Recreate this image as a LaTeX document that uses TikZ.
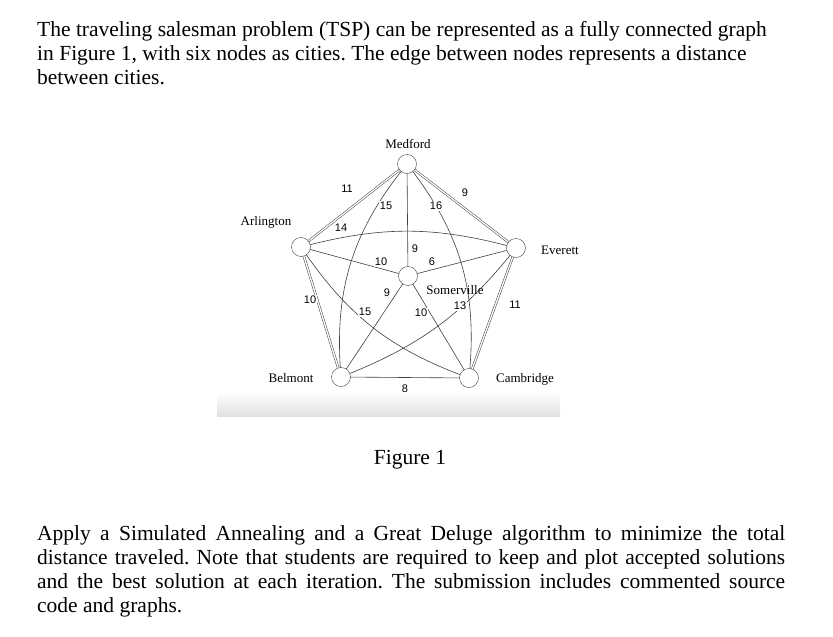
\documentclass[tikz,border=0pt]{standalone}
\usepackage{fontspec}
\setmainfont{Liberation Serif}
\newfontfamily\numfont{Liberation Sans}
\frenchspacing
\begin{document}
\begin{tikzpicture}[x=1pt,y=-1pt,
  city/.style={circle,draw=black!75,fill=white,minimum size=19pt,inner sep=0pt},
  edge/.style={draw=black!75,line width=0.6pt},
  dbl/.style={draw=black!75,double=white,double distance=1.3pt,line width=0.5pt},
  wt/.style={font=\numfont\fontsize{11}{13}\selectfont,inner sep=1pt,fill=white},
  nm/.style={font=\fontsize{13}{15}\selectfont},
  body/.style={anchor=base west,inner sep=0pt,font=\fontsize{21.5}{25}\selectfont}]
\useasboundingbox (0,0) rectangle (833,637);
\fill[white] (0,0) rectangle (833,637);
\shade[top color=white,bottom color=black!12] (217,392) rectangle (560,416);
\node[body] (p1) at (37,36) {The traveling salesman problem (TSP) can be represented as a fully connected graph};
\node[body] (p2) at (37,60) {in Figure 1, with six nodes as cities. The edge between nodes represents a distance};
\node[body] (p3) at (37,84) {between cities.};
\node (fig) at (410,460) {\fontsize{21.5}{25}\selectfont Figure 1};
\node[body] (q1) at (37,540) {\makebox[748pt][s]{Apply a Simulated Annealing and a Great Deluge algorithm to minimize the total}};
\node[body] (q2) at (37,564) {\makebox[748pt][s]{distance traveled. Note that students are required to keep and plot accepted solutions}};
\node[body] (q3) at (37,588) {\makebox[748pt][s]{and the best solution at each iteration. The submission includes commented source}};
\node[body] (q4) at (37,612) {code and graphs.};
\coordinate (M) at (407,164);
\coordinate (A) at (301,247);
\coordinate (E) at (516,248);
\coordinate (S) at (408,276);
\coordinate (B) at (341,377);
\coordinate (C) at (469,378);
\draw[dbl] (M) -- (A);
\draw[dbl] (M) -- (E);
\draw[dbl] (A) -- (B);
\draw[dbl] (E) -- (C);
\draw[edge] (M) -- (S);
\draw[edge] (M) to[bend right=22] (B);
\draw[edge] (M) to[bend left=22] (C);
\draw[edge] (A) to[bend left=15] (E);
\draw[edge] (A) -- (S);
\draw[edge] (A) to[bend right=18] (C);
\draw[edge] (E) -- (S);
\draw[edge] (E) to[bend left=15] (B);
\draw[edge] (S) -- (B);
\draw[edge] (S) -- (C);
\draw[edge] (B) -- (C);
\node[city] (nM) at (M) {};
\node[city] (nA) at (A) {};
\node[city] (nE) at (E) {};
\node[city] (nS) at (S) {};
\node[city] (nB) at (B) {};
\node[city] (nC) at (C) {};
\node[nm] (lM) at (408,144) {Medford};
\node[nm] (lA) at (266,222) {Arlington};
\node[nm] (lE) at (560,250) {Everett};
\node[nm] (lS) at (455,290) {Somerville};
\node[nm] (lB) at (291,378) {Belmont};
\node[nm] (lC) at (525,379) {Cambridge};
\node[wt] (w1) at (347,189) {11};
\node[wt] (w2) at (386,206) {15};
\node[wt] (w3) at (436,206) {16};
\node[wt] (w4) at (465,193) {9};
\node[wt] (w5) at (341,228) {14};
\node[wt] (w6) at (415,249) {9};
\node[wt] (w7) at (381,262) {10};
\node[wt] (w8) at (432,262) {6};
\node[wt] (w9) at (310,300) {10};
\node[wt] (w10) at (387,293) {9};
\node[wt] (w11) at (365,312) {15};
\node[wt] (w12) at (421,313) {10};
\node[wt] (w13) at (460,306) {13};
\node[wt] (w14) at (515,305) {11};
\node[wt] (w15) at (405,389) {8};
\end{tikzpicture}
\end{document}
